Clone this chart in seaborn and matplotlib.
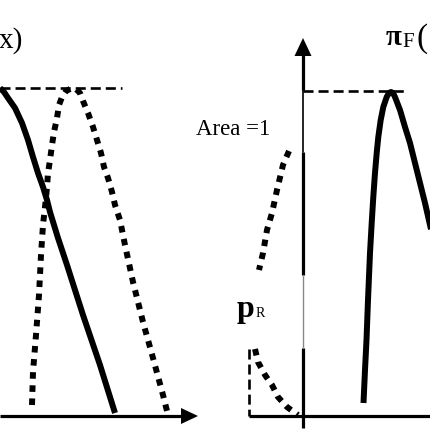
import matplotlib.pyplot as plt
import seaborn as sns
import pandas as pd

# curves, in pixel coordinates (y grows downward)
left_solid_x = [0, 4, 8, 15, 22, 28, 33, 38, 43, 47, 50, 58, 67, 83, 100, 115]
left_solid_y = [88, 92, 98, 108, 123, 140, 157, 173, 187, 200, 212, 238, 265, 315, 365, 413]

left_dot_x = [32, 33, 36, 39, 41, 43, 46, 47, 48, 50, 52, 54, 57, 59, 62, 66, 71,
              76, 80, 83, 88, 93, 97, 101, 104, 108, 112, 115, 120, 125, 133, 143,
              153, 163, 167]
left_dot_y = [405, 372, 335, 295, 255, 225, 198, 187, 173, 160, 145, 132, 118, 105, 97, 91, 88.5,
              89, 93, 101, 113, 127, 140, 153, 167, 178, 192, 205, 220, 245, 282, 322,
              358, 395, 411]

right_solid_x = [363.5, 365, 366.5, 368, 370, 371.7, 373.3, 375, 376.7, 378.3, 380.7,
                 383.3, 386.7, 389, 391, 393, 395, 400, 405, 410, 415, 420, 425, 430, 434]
right_solid_y = [403, 370, 340, 300, 253, 223, 197, 173, 153, 137, 120,
                 107, 97, 93, 92, 93, 97, 110, 127, 143, 163, 183, 203, 225, 242]

upper_dot_x = [289, 283, 277, 272, 267, 263, 259]
upper_dot_y = [151, 165, 190, 213, 230, 253, 270]

lower_dot_x = [255, 258, 265, 272, 278, 287, 298]
lower_dot_y = [349, 362, 375, 385, 397, 407, 415]

# reference lines
left_peak_x = [0, 122]
left_peak_y = [88, 88]
right_peak_x = [303, 408]
right_peak_y = [90.5, 90.5]
pr_mark_x = [249, 249]
pr_mark_y = [349, 416]

# axes with arrow heads
left_axis_x = [0, 183]
left_axis_y = [416, 416]
left_arrow_x = [181, 198, 181]
left_arrow_y = [408, 416, 424]
right_base_x = [249, 430]
right_base_y = [416, 416]
vaxis_x = [303, 303]
vaxis_thick_y = [(55, 90), (152, 275), (348, 428)]
vaxis_thin_y = [(90, 152)]
vaxis_faint_y = [(275, 348)]
vaxis_arrow_x = [294.5, 303, 311.5]
vaxis_arrow_y = [56, 38, 56]

sns.set_theme(style="white")
plt.rcParams["font.family"] = ["Liberation Serif", "DejaVu Serif"]

fig = plt.figure(figsize=(4.3, 4.3), dpi=100)
ax = fig.add_axes([0, 0, 1, 1])

dotted = dict(color="black", lw=4.3, linestyle=(0, (1.1, 1.1)), dash_capstyle="butt")
solid = dict(color="black", lw=4.3, solid_capstyle="butt", solid_joinstyle="round")
dashed = dict(color="black", lw=1.9, linestyle=(0, (3.8, 1.9)), dash_capstyle="butt")
axis_kw = dict(color="black", lw=2.3, solid_capstyle="butt")

def curve(xs, ys, **kw):
    df = pd.DataFrame({"x": xs, "y": ys})
    sns.lineplot(data=df, x="x", y="y", sort=False, estimator=None, ax=ax, **kw)

curve(left_solid_x, left_solid_y, **solid)
curve(left_dot_x, left_dot_y, **dotted)
curve(right_solid_x, right_solid_y, **solid)
curve(upper_dot_x, upper_dot_y, **dotted)
curve(lower_dot_x, lower_dot_y, **dotted)

curve(left_peak_x, left_peak_y, **dashed)
curve(right_peak_x, right_peak_y, **dashed)
curve(pr_mark_x, pr_mark_y, **dashed)

curve(left_axis_x, left_axis_y, **axis_kw)
ax.fill(left_arrow_x, left_arrow_y, color="black", lw=0)
curve(right_base_x, right_base_y, **axis_kw)
for y0, y1 in vaxis_thick_y:
    curve(vaxis_x, [y0, y1], **axis_kw)
for y0, y1 in vaxis_thin_y:
    curve(vaxis_x, [y0, y1], color="black", lw=1.2)
for y0, y1 in vaxis_faint_y:
    curve(vaxis_x, [y0, y1], color="#888888", lw=1.0)
ax.fill(vaxis_arrow_x, vaxis_arrow_y, color="black", lw=0)

# labels
ax.text(-1, 48, "x)", fontsize=21, ha="left", va="baseline", color="black")
ax.text(386, 45, "\u03c0", fontsize=21, fontweight="bold", ha="left", va="baseline", color="black")
ax.text(402, 47, "F", fontsize=15, ha="left", va="baseline", color="black")
ax.text(416, 47, "(", fontsize=24, ha="left", va="baseline", color="black")
ax.text(196, 135, "Area =1", fontsize=16.5, ha="left", va="baseline", color="black")
ax.text(237, 317, "p", fontsize=23, fontweight="bold", ha="left", va="baseline", color="black")
ax.text(256, 317, "R", fontsize=10, ha="left", va="baseline", color="black")

ax.set_xlim(0, 430)
ax.set_ylim(430, 0)
ax.axis("off")

fig.savefig("out.png", dpi=100)
